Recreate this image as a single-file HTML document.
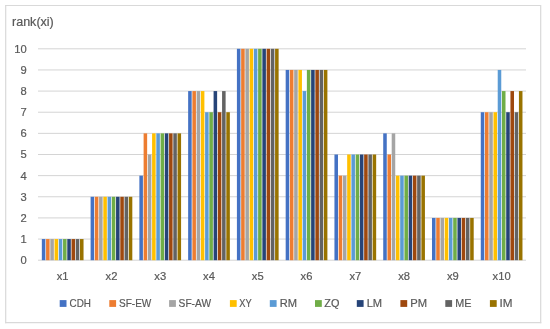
<!DOCTYPE html>
<html><head><meta charset="utf-8"><style>
html,body{margin:0;padding:0;background:#fff;}
svg{display:block;}
text{font-family:"Liberation Sans",sans-serif;fill:#595959;stroke:#595959;stroke-width:0.2px;}
.ax{font-size:11.2px;}
.lg{font-size:11.2px;}
.tt{font-size:12px;}
</style></head><body>
<svg width="550" height="329" viewBox="0 0 550 329">
<rect x="0" y="0" width="550" height="329" fill="#fff"/>
<g stroke="#D9D9D9" fill="none">
<line x1="5" y1="5.5" x2="541.3" y2="5.5" stroke-width="1"/>
<line x1="5.7" y1="5" x2="5.7" y2="323.3" stroke-width="1.2"/>
<line x1="540.7" y1="6" x2="540.7" y2="323.3" stroke-width="1.2"/>
<line x1="5" y1="322.7" x2="541.3" y2="322.7" stroke-width="1.2"/>
</g>
<text x="12" y="26.3" class="tt" textLength="41.8" lengthAdjust="spacingAndGlyphs">rank(xi)</text>
<line x1="38" y1="260.2" x2="526" y2="260.2" stroke="#D4D4D4" stroke-width="1"/>
<line x1="38" y1="239.06" x2="526" y2="239.06" stroke="#D4D4D4" stroke-width="1"/>
<line x1="38" y1="217.92" x2="526" y2="217.92" stroke="#D4D4D4" stroke-width="1"/>
<line x1="38" y1="196.78" x2="526" y2="196.78" stroke="#D4D4D4" stroke-width="1"/>
<line x1="38" y1="175.64" x2="526" y2="175.64" stroke="#D4D4D4" stroke-width="1"/>
<line x1="38" y1="154.5" x2="526" y2="154.5" stroke="#D4D4D4" stroke-width="1"/>
<line x1="38" y1="133.36" x2="526" y2="133.36" stroke="#D4D4D4" stroke-width="1"/>
<line x1="38" y1="112.22" x2="526" y2="112.22" stroke="#D4D4D4" stroke-width="1"/>
<line x1="38" y1="91.08" x2="526" y2="91.08" stroke="#D4D4D4" stroke-width="1"/>
<line x1="38" y1="69.94" x2="526" y2="69.94" stroke="#D4D4D4" stroke-width="1"/>
<line x1="38" y1="48.8" x2="526" y2="48.8" stroke="#D4D4D4" stroke-width="1"/>
<rect x="41.83" y="239.06" width="3.54" height="21.14" fill="#4472C4"/>
<rect x="46.07" y="239.06" width="3.54" height="21.14" fill="#ED7D31"/>
<rect x="50.31" y="239.06" width="3.54" height="21.14" fill="#A5A5A5"/>
<rect x="54.55" y="239.06" width="3.54" height="21.14" fill="#FFC000"/>
<rect x="58.79" y="239.06" width="3.54" height="21.14" fill="#5B9BD5"/>
<rect x="63.04" y="239.06" width="3.54" height="21.14" fill="#70AD47"/>
<rect x="67.28" y="239.06" width="3.54" height="21.14" fill="#264478"/>
<rect x="71.52" y="239.06" width="3.54" height="21.14" fill="#9E480E"/>
<rect x="75.76" y="239.06" width="3.54" height="21.14" fill="#636363"/>
<rect x="80" y="239.06" width="3.54" height="21.14" fill="#997300"/>
<rect x="90.6" y="196.78" width="3.54" height="63.42" fill="#4472C4"/>
<rect x="94.84" y="196.78" width="3.54" height="63.42" fill="#ED7D31"/>
<rect x="99.08" y="196.78" width="3.54" height="63.42" fill="#A5A5A5"/>
<rect x="103.32" y="196.78" width="3.54" height="63.42" fill="#FFC000"/>
<rect x="107.56" y="196.78" width="3.54" height="63.42" fill="#5B9BD5"/>
<rect x="111.8" y="196.78" width="3.54" height="63.42" fill="#70AD47"/>
<rect x="116.05" y="196.78" width="3.54" height="63.42" fill="#264478"/>
<rect x="120.29" y="196.78" width="3.54" height="63.42" fill="#9E480E"/>
<rect x="124.53" y="196.78" width="3.54" height="63.42" fill="#636363"/>
<rect x="128.77" y="196.78" width="3.54" height="63.42" fill="#997300"/>
<rect x="139.37" y="175.64" width="3.54" height="84.56" fill="#4472C4"/>
<rect x="143.61" y="133.36" width="3.54" height="126.84" fill="#ED7D31"/>
<rect x="147.85" y="154.5" width="3.54" height="105.7" fill="#A5A5A5"/>
<rect x="152.09" y="133.36" width="3.54" height="126.84" fill="#FFC000"/>
<rect x="156.33" y="133.36" width="3.54" height="126.84" fill="#5B9BD5"/>
<rect x="160.57" y="133.36" width="3.54" height="126.84" fill="#70AD47"/>
<rect x="164.82" y="133.36" width="3.54" height="126.84" fill="#264478"/>
<rect x="169.06" y="133.36" width="3.54" height="126.84" fill="#9E480E"/>
<rect x="173.3" y="133.36" width="3.54" height="126.84" fill="#636363"/>
<rect x="177.54" y="133.36" width="3.54" height="126.84" fill="#997300"/>
<rect x="188.14" y="91.08" width="3.54" height="169.12" fill="#4472C4"/>
<rect x="192.38" y="91.08" width="3.54" height="169.12" fill="#ED7D31"/>
<rect x="196.62" y="91.08" width="3.54" height="169.12" fill="#A5A5A5"/>
<rect x="200.86" y="91.08" width="3.54" height="169.12" fill="#FFC000"/>
<rect x="205.1" y="112.22" width="3.54" height="147.98" fill="#5B9BD5"/>
<rect x="209.34" y="112.22" width="3.54" height="147.98" fill="#70AD47"/>
<rect x="213.59" y="91.08" width="3.54" height="169.12" fill="#264478"/>
<rect x="217.83" y="112.22" width="3.54" height="147.98" fill="#9E480E"/>
<rect x="222.07" y="91.08" width="3.54" height="169.12" fill="#636363"/>
<rect x="226.31" y="112.22" width="3.54" height="147.98" fill="#997300"/>
<rect x="236.91" y="48.8" width="3.54" height="211.4" fill="#4472C4"/>
<rect x="241.15" y="48.8" width="3.54" height="211.4" fill="#ED7D31"/>
<rect x="245.39" y="48.8" width="3.54" height="211.4" fill="#A5A5A5"/>
<rect x="249.63" y="48.8" width="3.54" height="211.4" fill="#FFC000"/>
<rect x="253.87" y="48.8" width="3.54" height="211.4" fill="#5B9BD5"/>
<rect x="258.12" y="48.8" width="3.54" height="211.4" fill="#70AD47"/>
<rect x="262.36" y="48.8" width="3.54" height="211.4" fill="#264478"/>
<rect x="266.6" y="48.8" width="3.54" height="211.4" fill="#9E480E"/>
<rect x="270.84" y="48.8" width="3.54" height="211.4" fill="#636363"/>
<rect x="275.08" y="48.8" width="3.54" height="211.4" fill="#997300"/>
<rect x="285.68" y="69.94" width="3.54" height="190.26" fill="#4472C4"/>
<rect x="289.92" y="69.94" width="3.54" height="190.26" fill="#ED7D31"/>
<rect x="294.16" y="69.94" width="3.54" height="190.26" fill="#A5A5A5"/>
<rect x="298.4" y="69.94" width="3.54" height="190.26" fill="#FFC000"/>
<rect x="302.64" y="91.08" width="3.54" height="169.12" fill="#5B9BD5"/>
<rect x="306.88" y="69.94" width="3.54" height="190.26" fill="#70AD47"/>
<rect x="311.13" y="69.94" width="3.54" height="190.26" fill="#264478"/>
<rect x="315.37" y="69.94" width="3.54" height="190.26" fill="#9E480E"/>
<rect x="319.61" y="69.94" width="3.54" height="190.26" fill="#636363"/>
<rect x="323.85" y="69.94" width="3.54" height="190.26" fill="#997300"/>
<rect x="334.45" y="154.5" width="3.54" height="105.7" fill="#4472C4"/>
<rect x="338.69" y="175.64" width="3.54" height="84.56" fill="#ED7D31"/>
<rect x="342.93" y="175.64" width="3.54" height="84.56" fill="#A5A5A5"/>
<rect x="347.17" y="154.5" width="3.54" height="105.7" fill="#FFC000"/>
<rect x="351.41" y="154.5" width="3.54" height="105.7" fill="#5B9BD5"/>
<rect x="355.66" y="154.5" width="3.54" height="105.7" fill="#70AD47"/>
<rect x="359.9" y="154.5" width="3.54" height="105.7" fill="#264478"/>
<rect x="364.14" y="154.5" width="3.54" height="105.7" fill="#9E480E"/>
<rect x="368.38" y="154.5" width="3.54" height="105.7" fill="#636363"/>
<rect x="372.62" y="154.5" width="3.54" height="105.7" fill="#997300"/>
<rect x="383.22" y="133.36" width="3.54" height="126.84" fill="#4472C4"/>
<rect x="387.46" y="154.5" width="3.54" height="105.7" fill="#ED7D31"/>
<rect x="391.7" y="133.36" width="3.54" height="126.84" fill="#A5A5A5"/>
<rect x="395.94" y="175.64" width="3.54" height="84.56" fill="#FFC000"/>
<rect x="400.18" y="175.64" width="3.54" height="84.56" fill="#5B9BD5"/>
<rect x="404.43" y="175.64" width="3.54" height="84.56" fill="#70AD47"/>
<rect x="408.67" y="175.64" width="3.54" height="84.56" fill="#264478"/>
<rect x="412.91" y="175.64" width="3.54" height="84.56" fill="#9E480E"/>
<rect x="417.15" y="175.64" width="3.54" height="84.56" fill="#636363"/>
<rect x="421.39" y="175.64" width="3.54" height="84.56" fill="#997300"/>
<rect x="431.99" y="217.92" width="3.54" height="42.28" fill="#4472C4"/>
<rect x="436.23" y="217.92" width="3.54" height="42.28" fill="#ED7D31"/>
<rect x="440.47" y="217.92" width="3.54" height="42.28" fill="#A5A5A5"/>
<rect x="444.71" y="217.92" width="3.54" height="42.28" fill="#FFC000"/>
<rect x="448.95" y="217.92" width="3.54" height="42.28" fill="#5B9BD5"/>
<rect x="453.19" y="217.92" width="3.54" height="42.28" fill="#70AD47"/>
<rect x="457.44" y="217.92" width="3.54" height="42.28" fill="#264478"/>
<rect x="461.68" y="217.92" width="3.54" height="42.28" fill="#9E480E"/>
<rect x="465.92" y="217.92" width="3.54" height="42.28" fill="#636363"/>
<rect x="470.16" y="217.92" width="3.54" height="42.28" fill="#997300"/>
<rect x="480.76" y="112.22" width="3.54" height="147.98" fill="#4472C4"/>
<rect x="485" y="112.22" width="3.54" height="147.98" fill="#ED7D31"/>
<rect x="489.24" y="112.22" width="3.54" height="147.98" fill="#A5A5A5"/>
<rect x="493.48" y="112.22" width="3.54" height="147.98" fill="#FFC000"/>
<rect x="497.72" y="69.94" width="3.54" height="190.26" fill="#5B9BD5"/>
<rect x="501.96" y="91.08" width="3.54" height="169.12" fill="#70AD47"/>
<rect x="506.21" y="112.22" width="3.54" height="147.98" fill="#264478"/>
<rect x="510.45" y="91.08" width="3.54" height="169.12" fill="#9E480E"/>
<rect x="514.69" y="112.22" width="3.54" height="147.98" fill="#636363"/>
<rect x="518.93" y="91.08" width="3.54" height="169.12" fill="#997300"/>
<text x="26.8" y="264.1" text-anchor="end" class="ax">0</text>
<text x="26.8" y="242.96" text-anchor="end" class="ax">1</text>
<text x="26.8" y="221.82" text-anchor="end" class="ax">2</text>
<text x="26.8" y="200.68" text-anchor="end" class="ax">3</text>
<text x="26.8" y="179.54" text-anchor="end" class="ax">4</text>
<text x="26.8" y="158.4" text-anchor="end" class="ax">5</text>
<text x="26.8" y="137.26" text-anchor="end" class="ax">6</text>
<text x="26.8" y="116.12" text-anchor="end" class="ax">7</text>
<text x="26.8" y="94.98" text-anchor="end" class="ax">8</text>
<text x="26.8" y="73.84" text-anchor="end" class="ax">9</text>
<text x="26.8" y="52.7" text-anchor="end" class="ax">10</text>
<text x="62.68" y="280" text-anchor="middle" class="ax">x1</text>
<text x="111.45" y="280" text-anchor="middle" class="ax">x2</text>
<text x="160.22" y="280" text-anchor="middle" class="ax">x3</text>
<text x="209" y="280" text-anchor="middle" class="ax">x4</text>
<text x="257.76" y="280" text-anchor="middle" class="ax">x5</text>
<text x="306.53" y="280" text-anchor="middle" class="ax">x6</text>
<text x="355.31" y="280" text-anchor="middle" class="ax">x7</text>
<text x="404.07" y="280" text-anchor="middle" class="ax">x8</text>
<text x="452.84" y="280" text-anchor="middle" class="ax">x9</text>
<text x="501.61" y="280" text-anchor="middle" class="ax">x10</text>
<rect x="59.7" y="300.1" width="6.8" height="6.8" fill="#4472C4"/>
<text x="69.6" y="306.9" class="lg" textLength="21.4" lengthAdjust="spacingAndGlyphs">CDH</text>
<rect x="109.3" y="300.1" width="6.8" height="6.8" fill="#ED7D31"/>
<text x="119" y="306.9" class="lg" textLength="32.3" lengthAdjust="spacingAndGlyphs">SF-EW</text>
<rect x="169.1" y="300.1" width="6.8" height="6.8" fill="#A5A5A5"/>
<text x="178.6" y="306.9" class="lg" textLength="32.4" lengthAdjust="spacingAndGlyphs">SF-AW</text>
<rect x="229.9" y="300.1" width="6.8" height="6.8" fill="#FFC000"/>
<text x="239.2" y="306.9" class="lg" textLength="12.4" lengthAdjust="spacingAndGlyphs">XY</text>
<rect x="269.8" y="300.1" width="6.8" height="6.8" fill="#5B9BD5"/>
<text x="279.7" y="306.9" class="lg" textLength="17.3" lengthAdjust="spacingAndGlyphs">RM</text>
<rect x="315" y="300.1" width="6.8" height="6.8" fill="#70AD47"/>
<text x="324.3" y="306.9" class="lg" textLength="15.1" lengthAdjust="spacingAndGlyphs">ZQ</text>
<rect x="356.8" y="300.1" width="6.8" height="6.8" fill="#264478"/>
<text x="366.7" y="306.9" class="lg" textLength="15.45" lengthAdjust="spacingAndGlyphs">LM</text>
<rect x="400.4" y="300.1" width="6.8" height="6.8" fill="#9E480E"/>
<text x="410.3" y="306.9" class="lg" textLength="16.8" lengthAdjust="spacingAndGlyphs">PM</text>
<rect x="445.3" y="300.1" width="6.8" height="6.8" fill="#636363"/>
<text x="455.2" y="306.9" class="lg" textLength="16.16" lengthAdjust="spacingAndGlyphs">ME</text>
<rect x="489.9" y="300.1" width="6.8" height="6.8" fill="#997300"/>
<text x="499.6" y="306.9" class="lg" textLength="13" lengthAdjust="spacingAndGlyphs">IM</text>
</svg>
</body></html>
